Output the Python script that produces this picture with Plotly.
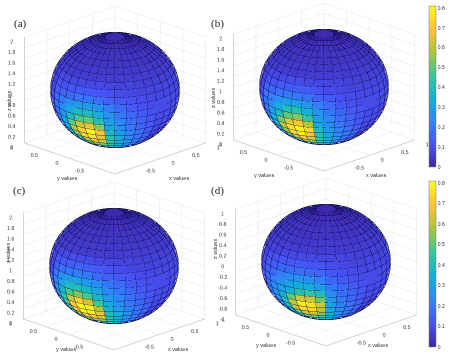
import numpy as np
import plotly.graph_objects as go

# sphere grid, degrees
LON_EDGES = list(range(5, 366, 10))
LAT_EDGES = [-90 + 7.5 * k for k in range(25)]

# background value of each latitude band, south to north
BAND = [.06, .06, .07, .07, .07, .08, .08, .09, .09, .10, .10, .10,
        .10, .09, .08, .07, .06, .05, .04, .04, .03, .03, .02, .01]

# patch: rows are latitude bands (north to south), columns the longitude bands
PATCH_LON_FIRST = 155  # west edge of first column
PATCH_BAND_TOP = 15    # index of top row in BAND numbering

HEAT_A = [
 [.09,.09,.09,.09,.09,.09,.09,.08,.08,.07,.07],
 [.11,.11,.12,.13,.13,.12,.11,.10,.09,.08,.08],
 [.14,.15,.17,.19,.19,.18,.15,.13,.11,.10,.09],
 [.17,.20,.25,.28,.29,.26,.21,.17,.13,.11,.10],
 [.19,.24,.32,.38,.39,.33,.26,.20,.16,.13,.11],
 [.20,.28,.38,.48,.50,.41,.29,.23,.18,.15,.12],
 [.22,.34,.50,.62,.66,.54,.33,.26,.20,.16,.13],
 [.24,.37,.58,.72,.80,.70,.38,.29,.22,.18,.14],
 [.24,.37,.56,.72,.78,.66,.42,.32,.24,.19,.15],
 [.24,.35,.50,.62,.68,.62,.44,.34,.26,.20,.16],
 [.23,.32,.44,.52,.58,.56,.42,.35,.27,.21,.16],
 [.22,.28,.38,.44,.48,.47,.40,.34,.26,.20,.15],
 [.20,.26,.34,.38,.40,.40,.36,.30,.23,.18,.14],
 [.18,.22,.28,.32,.33,.32,.30,.25,.20,.15,.12],
 [.14,.16,.20,.22,.23,.22,.21,.18,.15,.12,.10],
 [.10,.11,.13,.14,.14,.14,.13,.12,.10,.09,.08],
]
HEAT_B = [
 [.09,.09,.09,.10,.10,.09,.09,.08,.08,.07,.07],
 [.11,.12,.13,.14,.14,.13,.11,.10,.09,.08,.08],
 [.15,.16,.18,.20,.20,.19,.15,.13,.11,.10,.09],
 [.18,.21,.26,.30,.30,.27,.21,.17,.13,.11,.10],
 [.20,.25,.33,.40,.42,.35,.26,.20,.16,.13,.11],
 [.21,.30,.40,.50,.54,.44,.29,.23,.18,.15,.12],
 [.23,.35,.52,.64,.70,.58,.33,.26,.20,.16,.13],
 [.25,.38,.60,.75,.80,.73,.38,.29,.22,.18,.14],
 [.25,.38,.58,.75,.80,.70,.42,.32,.24,.19,.15],
 [.25,.36,.52,.65,.71,.65,.45,.34,.26,.20,.16],
 [.24,.33,.45,.54,.60,.58,.44,.35,.27,.21,.16],
 [.22,.29,.38,.44,.48,.47,.40,.34,.26,.20,.15],
 [.20,.26,.34,.38,.40,.40,.36,.30,.23,.18,.14],
 [.18,.22,.28,.32,.33,.32,.30,.25,.20,.15,.12],
 [.14,.16,.20,.22,.23,.22,.21,.18,.15,.12,.10],
 [.10,.11,.13,.14,.14,.14,.13,.12,.10,.09,.08],
]
HEAT_C = [
 [.09,.10,.10,.10,.10,.09,.09,.08,.08,.07,.07],
 [.12,.13,.14,.15,.14,.13,.11,.10,.09,.08,.08],
 [.16,.18,.20,.21,.20,.17,.15,.13,.11,.10,.09],
 [.20,.25,.29,.31,.28,.24,.20,.17,.13,.11,.10],
 [.24,.31,.38,.41,.37,.30,.24,.20,.16,.13,.11],
 [.28,.37,.48,.53,.47,.37,.28,.23,.18,.15,.12],
 [.31,.44,.62,.71,.63,.46,.32,.26,.20,.16,.13],
 [.33,.50,.70,.80,.78,.58,.36,.29,.22,.18,.14],
 [.34,.50,.70,.80,.79,.66,.40,.32,.24,.19,.15],
 [.33,.47,.62,.72,.72,.64,.43,.34,.26,.20,.16],
 [.30,.42,.52,.60,.62,.56,.43,.35,.27,.21,.16],
 [.27,.36,.44,.48,.50,.47,.40,.34,.26,.20,.15],
 [.24,.31,.37,.40,.41,.40,.36,.30,.23,.18,.14],
 [.20,.25,.30,.33,.33,.32,.30,.25,.20,.15,.12],
 [.15,.18,.21,.23,.23,.22,.21,.18,.15,.12,.10],
 [.11,.12,.14,.14,.14,.14,.13,.12,.10,.09,.08],
]
HEAT_D = [
 [.08,.08,.09,.09,.09,.09,.09,.08,.08,.07,.07],
 [.10,.11,.12,.12,.13,.12,.12,.10,.09,.08,.08],
 [.13,.14,.16,.17,.18,.17,.16,.13,.11,.10,.09],
 [.15,.17,.21,.24,.26,.25,.22,.16,.13,.11,.10],
 [.17,.21,.26,.30,.34,.33,.29,.20,.16,.13,.11],
 [.20,.24,.30,.35,.42,.44,.40,.24,.18,.15,.12],
 [.21,.26,.35,.50,.62,.62,.52,.28,.20,.16,.13],
 [.22,.28,.40,.62,.78,.76,.62,.30,.22,.18,.14],
 [.22,.29,.42,.62,.74,.74,.60,.33,.24,.19,.15],
 [.22,.29,.40,.54,.64,.64,.54,.35,.26,.20,.16],
 [.21,.27,.38,.46,.54,.54,.48,.35,.27,.21,.16],
 [.20,.25,.33,.40,.45,.45,.42,.34,.26,.20,.15],
 [.18,.23,.29,.34,.37,.38,.36,.30,.23,.18,.14],
 [.16,.20,.24,.28,.30,.30,.29,.25,.20,.15,.12],
 [.13,.15,.18,.20,.21,.21,.20,.18,.15,.12,.10],
 [.10,.11,.12,.13,.14,.14,.13,.12,.10,.09,.08],
]

Z_TICKS_02 = [0, .2, .4, .6, .8, 1, 1.2, 1.4, 1.6, 1.8, 2]
Z_TICKS_11 = [-1, -.8, -.6, -.4, -.2, 0, .2, .4, .6, .8, 1]
XY_TICKS = [-1, -.5, 0, .5, 1]
CBAR_TICKS = [0, .1, .2, .3, .4, .5, .6, .7, .8]
PANEL_LABELS = ["(a)", "(b)", "(c)", "(d)"]
AXIS_TITLES = ["x values", "y values", "z values"]
CAP_LATS = [84, 87]

PARULA = [[0, "rgb(62,38,168)"], [1/7, "rgb(72,82,244)"], [2/7, "rgb(46,135,247)"],
          [3/7, "rgb(18,177,214)"], [4/7, "rgb(55,200,151)"], [5/7, "rgb(171,199,57)"],
          [6/7, "rgb(254,195,56)"], [1, "rgb(249,251,21)"]]

W, H = 474, 360


def cell_values(patch):
    nlat, nlon = len(LAT_EDGES) - 1, len(LON_EDGES) - 1
    v = np.array([[BAND[r]] * nlon for r in range(nlat)], float)
    first = (PATCH_LON_FIRST - LON_EDGES[0]) // 10
    for i, row in enumerate(patch):
        for j, val in enumerate(row):
            r = PATCH_BAND_TOP - i
            if r >= 0:
                v[r, first + j] = val
    return v


def sphere(patch, zc, scene, colorbar):
    lon = np.radians(LON_EDGES)
    lat = np.radians(LAT_EDGES)
    nlat, nlon = len(lat) - 1, len(lon) - 1
    LON, LAT = np.meshgrid(lon, lat)
    X = (np.cos(LAT) * np.cos(LON)).ravel()
    Y = (np.cos(LAT) * np.sin(LON)).ravel()
    Z = np.sin(LAT).ravel() + zc
    vals = cell_values(patch)
    I, J, K, C = [], [], [], []
    for r in range(nlat):
        for c in range(nlon):
            a = r * (nlon + 1) + c
            b, d, e = a + 1, a + nlon + 1, a + nlon + 2
            I += [a, a]; J += [b, e]; K += [e, d]
            C += [vals[r, c]] * 2
    kw = dict(showscale=False)
    if colorbar:
        kw = dict(showscale=True, colorbar=colorbar)
    mesh = go.Mesh3d(x=X, y=Y, z=Z, i=I, j=J, k=K, intensity=C, intensitymode="cell",
                     colorscale=PARULA, cmin=0, cmax=.81, flatshading=True,
                     lighting=dict(ambient=1, diffuse=0, specular=0, fresnel=0, roughness=1),
                     hoverinfo="skip", scene=scene, **kw)
    fine = np.radians(np.linspace(-90, 90, 25))
    lx, ly, lz = [], [], []
    R = 1.012
    for l in lon[:-1]:
        lx += list(R * np.cos(fine) * np.cos(l)) + [None]
        ly += list(R * np.cos(fine) * np.sin(l)) + [None]
        lz += list(R * np.sin(fine) + zc) + [None]
    fl = np.radians(np.linspace(5, 365, 37))
    for p in lat[1:-1]:
        lx += list(R * np.cos(p) * np.cos(fl)) + [None]
        ly += list(R * np.cos(p) * np.sin(fl)) + [None]
        lz += list(R * np.sin(p) * np.ones_like(fl) + zc) + [None]
    lines = go.Scatter3d(x=lx, y=ly, z=lz, mode="lines", line=dict(color="rgba(0,0,40,0.7)", width=1),
                         hoverinfo="skip", showlegend=False, scene=scene)
    # dark polar cap where the grid lines crowd together
    px, py, pz = [], [], []
    for d in CAP_LATS:
        p = np.radians(d)
        px += list(1.02 * np.cos(p) * np.cos(fl)) + [None]
        py += list(1.02 * np.cos(p) * np.sin(fl)) + [None]
        pz += list(1.02 * np.sin(p) * np.ones_like(fl) + zc) + [None]
    cap = go.Scatter3d(x=px, y=py, z=pz, mode="lines", line=dict(color="#08082a", width=2.5),
                       hoverinfo="skip", showlegend=False, scene=scene)
    return [mesh, lines, cap]


def axis(ticks, rng):
    return dict(title=dict(text=""), range=rng,
                tickvals=ticks, ticktext=[f"{t:g}" for t in ticks], tickangle=0,
                tickfont=dict(size=8, color="#333"), showgrid=True, gridcolor="#e4e4e4", gridwidth=1,
                showline=True, linecolor="#aaaaaa", linewidth=1, zeroline=False, showbackground=False,
                showspikes=False, ticks="", ticklen=0)


CB = dict(thickness=7, thicknessmode="pixels", lenmode="fraction", xanchor="left", yanchor="top",
          x=429 / W, xpad=0, ypad=0, tickvals=CBAR_TICKS, ticktext=[f"{t:g}" for t in CBAR_TICKS],
          tickfont=dict(size=5, color="#333"), ticks="", outlinewidth=0.5, outlinecolor="#777")

fig = go.Figure()
panels = [
    (HEAT_A, 1, "scene", (115, 90), None, Z_TICKS_02, [0, 2]),
    (HEAT_B, 1, "scene2", (324, 87), dict(CB, len=161 / H, y=1 - 6 / H), Z_TICKS_02, [0, 2]),
    (HEAT_C, 1, "scene3", (114, 266), None, Z_TICKS_02, [0, 2]),
    (HEAT_D, 0, "scene4", (326, 262), dict(CB, len=166 / H, y=1 - 181 / H), Z_TICKS_11, [-1, 1]),
]
SCENE_W, SCENE_H = 226, 172
EYE = dict(x=-1.3, y=-1.3, z=.67)
ASPECT = dict(x=1.49, y=1.49, z=1.31)
for patch, zc, sc, (cx, cy), cbar, zt, zr in panels:
    for tr in sphere(patch, zc, sc, cbar):
        fig.add_trace(tr)
    fig.update_layout(**{sc: dict(
        domain=dict(x=[(cx - SCENE_W / 2) / W, (cx + SCENE_W / 2) / W],
                    y=[1 - (cy + SCENE_H / 2) / H, 1 - (cy - SCENE_H / 2) / H]),
        aspectmode="manual", aspectratio=ASPECT,
        camera=dict(projection=dict(type="orthographic"), eye=EYE,
                    center=dict(x=0, y=0, z=0), up=dict(x=0, y=0, z=1)),
        xaxis=axis(XY_TICKS, [-1, 1]),
        yaxis=axis(XY_TICKS, [-1, 1]),
        zaxis=axis(zt, zr),
        bgcolor="rgba(0,0,0,0)")})

LABEL_POS = [(12, 15), (217, 15), (11, 190), (217, 190)]
for txt, (x, y) in zip(PANEL_LABELS, LABEL_POS):
    fig.add_annotation(text=txt, x=x / W, y=1 - y / H, xref="paper", yref="paper", showarrow=False,
                       font=dict(family="Liberation Serif", size=11, color="#222"))

# axis titles: offsets from each sphere centre, in pixels
TITLE_OFFSETS = [(64, 88, 0), (-60, 88, 0), (-111, -1, -90)]
for _, _, _, (cx, cy), _, _, _ in panels:
    for txt, (dx, dy, ang) in zip(AXIS_TITLES, TITLE_OFFSETS):
        fig.add_annotation(text=txt, x=(cx + dx) / W, y=1 - (cy + dy) / H, xref="paper", yref="paper",
                           showarrow=False, textangle=ang, font=dict(size=5.5, color="#333"))

fig.update_layout(width=W, height=H, margin=dict(l=0, r=0, t=0, b=0), paper_bgcolor="white",
                  showlegend=False, font=dict(family="Liberation Sans"))
fig.write_html("out.html", config=dict(displayModeBar=False),
               post_script="document.body.style.margin='0';")
